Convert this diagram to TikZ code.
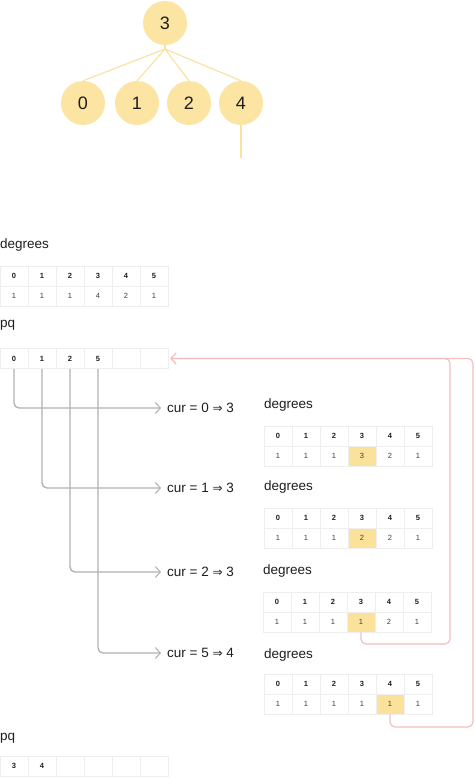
\documentclass[tikz,border=0pt]{standalone}
\usepackage{fontspec}
\setmainfont{Liberation Sans}
\newfontfamily\arrowfont{DejaVu Sans}
\usepackage{tikz}
\usetikzlibrary{arrows.meta}

\definecolor{treefill}{HTML}{FCE4A2}
\definecolor{treeline}{HTML}{F8E2A4}
\definecolor{gridline}{HTML}{EEEEEE}
\definecolor{hotfill}{HTML}{FBE29B}
\definecolor{flowgray}{HTML}{B0B0B0}
\definecolor{backpink}{HTML}{F4BFBF}
\definecolor{ink}{HTML}{1E1E1E}

\begin{document}
\begin{tikzpicture}[x=1pt, y=-1pt,
		vert/.style={circle, fill=treefill, minimum size=44pt, inner sep=0pt, text=ink, font=\fontsize{18}{18}\selectfont},
		edge/.style={treeline, line width=1.2pt},
		cell/.style={draw=gridline, line width=0.7pt, minimum width=28pt, minimum height=20pt, inner sep=0pt, text=ink, font=\fontsize{7.5}{8}\selectfont\bfseries},
		val/.style={font=\fontsize{7.5}{8}\selectfont, text=black!75},
		hot/.style={val, fill=hotfill},
		title/.style={anchor=west, inner sep=0pt, text=ink, font=\fontsize{13.5}{14}\selectfont},
		curlab/.style={anchor=west, inner xsep=6pt, text=ink, font=\fontsize{13.5}{14}\selectfont},
		flow/.style={flowgray, line width=1.3pt, rounded corners=5pt, -{Straight Barb[length=5pt, width=11pt, line width=1pt]}},
		back/.style={backpink, line width=1.2pt, rounded corners=5pt, shorten >=2pt, -{Straight Barb[length=5pt, width=11pt, line width=1pt]}}]
	\useasboundingbox (0,0) rectangle (474,778);

	% Tree
	\node[vert] (r) at (165,23) {3};
	\node[vert] (c0) at (83,103) {0};
	\node[vert] (c1) at (137,103) {1};
	\node[vert] (c2) at (189,103) {2};
	\node[vert] (c4) at (241,103) {4};
	\coordinate (rb) at (165,49);
	\coordinate (c4end) at (241,158);
	\draw[edge] (r) -- (rb);
	\draw[edge] (rb) -- (c0.north);
	\draw[edge] (rb) -- (c1.north);
	\draw[edge] (rb) -- (c2.north);
	\draw[edge] (rb) -- (c4.north);
	\draw[edge] (c4) -- (c4end);

	% Degrees at start
	\node[title] (degt) at (0,245) {degrees};
	\foreach \v [count=\i from 0] in {1,1,1,4,2,1} {
		\node[cell] (deg-h\i) at ({14+28*\i},276) {\i};
		\node[cell,val] (deg-v\i) at ({14+28*\i},296) {\v};
	}

	% Queue
	\node[title] (pqt) at (0,325) {pq};
	\foreach \v [count=\i from 0] in {0,1,2,5,{},{}}
		\node[cell] (pqa-\i) at ({14+28*\i},358.5) {\v};

	% Steps
	\node[curlab] (cur1) at (161,408) {cur = 0 {\arrowfont\fontsize{12}{12}\selectfont ⇒} 3};
	\node[curlab] (cur2) at (161,488) {cur = 1 {\arrowfont\fontsize{12}{12}\selectfont ⇒} 3};
	\node[curlab] (cur3) at (161,572) {cur = 2 {\arrowfont\fontsize{12}{12}\selectfont ⇒} 3};
	\node[curlab] (cur4) at (161,653) {cur = 5 {\arrowfont\fontsize{12}{12}\selectfont ⇒} 4};

	\node[title] (s1t) at (264,405) {degrees};
	\foreach \v/\s [count=\i from 0] in {1/val,1/val,1/val,3/hot,2/val,1/val} {
		\node[cell] (s1-h\i) at ({278+28*\i},436) {\i};
		\node[cell,\s] (s1-v\i) at ({278+28*\i},456) {\v};
	}
	\node[title] (s2t) at (264,487) {degrees};
	\foreach \v/\s [count=\i from 0] in {1/val,1/val,1/val,2/hot,2/val,1/val} {
		\node[cell] (s2-h\i) at ({278+28*\i},518) {\i};
		\node[cell,\s] (s2-v\i) at ({278+28*\i},538) {\v};
	}
	\node[title] (s3t) at (263,571) {degrees};
	\foreach \v/\s [count=\i from 0] in {1/val,1/val,1/val,1/hot,2/val,1/val} {
		\node[cell] (s3-h\i) at ({277+28*\i},602) {\i};
		\node[cell,\s] (s3-v\i) at ({277+28*\i},622) {\v};
	}
	\node[title] (s4t) at (264,655) {degrees};
	\foreach \v/\s [count=\i from 0] in {1/val,1/val,1/val,1/val,1/hot,1/val} {
		\node[cell] (s4-h\i) at ({278+28*\i},684) {\i};
		\node[cell,\s] (s4-v\i) at ({278+28*\i},704) {\v};
	}

	% Queue at end
	\node[title] (pqt2) at (0,738) {pq};
	\foreach \v [count=\i from 0] in {3,4,{},{},{},{}}
		\node[cell] (pqb-\i) at ({14+28*\i},766) {\v};

	% Pops
	\draw[flow] (pqa-0.south) |- (cur1.west);
	\draw[flow] (pqa-1.south) |- (cur2.west);
	\draw[flow] (pqa-2.south) |- (cur3.west);
	\draw[flow] (pqa-3.south) |- (cur4.west);

	% Pushes back
	\coordinate (b1) at (450,644);
	\coordinate (b2) at (473,727);
	\draw[back] (s3-v3.south) |- (b1) |- (pqa-5.east);
	\draw[back] (s4-v4.south) |- (b2) |- (pqa-5.east);
\end{tikzpicture}
\end{document}
